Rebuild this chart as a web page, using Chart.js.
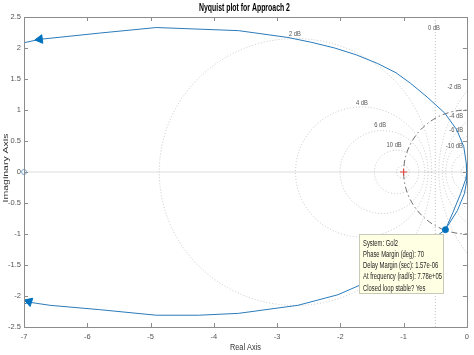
<!DOCTYPE html>
<html><head><meta charset="utf-8">
<script src="https://cdn.jsdelivr.net/npm/chart.js@4"></script>
<style>html,body{margin:0;padding:0;background:#fff}</style>
</head><body>
<canvas id="c" width="474" height="355"></canvas>
<script>
// ---- data ----
const titleText = 'Nyquist plot for Approach 2';
const xAxisTitle = 'Real Axis';
const yAxisTitle = 'Imaginary Axis';
const xTicks = [-7, -6, -5, -4, -3, -2, -1, 0];
const yTicks = [-2.5, -2, -1.5, -1, -0.5, 0, 0.5, 1, 1.5, 2, 2.5];

// Nyquist curve, upper branch (negative frequencies)
const upperReal = [-7.0, -6.75, -5.81, -4.91, -3.61, -2.83, -2.45, -2.09, -1.75, -1.41, -1.12, -0.89, -0.63, -0.35, -0.16, -0.05, -0.01, 0.0, -0.04, -0.15, -0.34];
const upperImag = [2.085, 2.14, 2.24, 2.33, 2.28, 2.17, 2.09, 2.0, 1.89, 1.75, 1.6, 1.43, 1.21, 0.95, 0.68, 0.41, 0.14, -0.13, -0.35, -0.62, -0.93];
// Nyquist curve, lower branch (positive frequencies)
const lowerReal = [-7.0, -6.92, -6.59, -5.81, -4.91, -4.24, -3.61, -2.67, -2.04, -1.68, -1.2, -0.7, -0.34, -0.22, -0.1, -0.02, 0.0];
const lowerImag = [-2.13, -2.10, -2.15, -2.22, -2.31, -2.31, -2.28, -2.15, -1.98, -1.82, -1.55, -1.2, -0.93, -0.65, -0.35, -0.12, 0.0];

// direction arrows on the curve
const arrowReal = [-6.75, -6.92];
const arrowImag = [2.14, -2.09];
const arrowAngle = [-97, -72];

// phase-margin data tip
const pmReal = [-0.34];
const pmImag = [-0.93];
const tipLines = ['System: Gol2', 'Phase Margin (deg): 70', 'Delay Margin (sec): 1.57e-06', 'At frequency (rad/s): 7.78e+05', 'Closed loop stable? Yes'];

// critical point and start marker
const critReal = [-1], critImag = [0];
const startReal = [-7], startImag = [0];

// M-circle grid (closed-loop magnitude, dB)
const gridDb = [-20, -10, -6, -4, -2, 0, 2, 4, 6, 10, 20];
const dbLabels = ['0 dB', '2 dB', '4 dB', '6 dB', '10 dB', '-2 dB', '-4 dB', '-6 dB', '-10 dB'];
const dbLabelReal = [-0.52, -2.72, -1.66, -1.37, -1.15, -0.2, -0.17, -0.17, -0.2];
const dbLabelImag = [2.32, 2.23, 1.11, 0.76, 0.44, 1.37, 0.90, 0.68, 0.42];

// ---- drawing ----
const FONT = "'Liberation Sans', Arial, sans-serif";
const SQUEEZE = 0.72; // the reference is horizontally condensed
const BLUE = '#0072BD';
const pts = (xs, ys) => xs.map((x, i) => ({x, y: ys[i]}));

function squeezedText(ctx, text, x, y, align, sx) {
  ctx.save();
  ctx.translate(x, y);
  ctx.scale(sx, 1);
  ctx.textAlign = align;
  ctx.fillText(text, 0, 0);
  ctx.restore();
}

const decor = {
  id: 'decor',
  beforeDatasetsDraw(chart) {
    const {ctx, chartArea: a, scales: {x, y}} = chart;
    const ux = Math.abs(x.getPixelForValue(1) - x.getPixelForValue(0));
    const uy = Math.abs(y.getPixelForValue(1) - y.getPixelForValue(0));
    ctx.save();
    ctx.beginPath(); ctx.rect(a.left, a.top, a.right - a.left, a.bottom - a.top); ctx.clip();
    ctx.strokeStyle = '#dcdcdc'; ctx.lineWidth = 1; ctx.setLineDash([]);
    ctx.beginPath();
    ctx.moveTo(a.left, y.getPixelForValue(0)); ctx.lineTo(a.right, y.getPixelForValue(0));
    ctx.stroke();
    ctx.strokeStyle = '#c4c4c4'; ctx.setLineDash([1, 2]);
    gridDb.forEach(d => {
      ctx.beginPath();
      if (d === 0) {
        const px = x.getPixelForValue(-0.5);
        ctx.moveTo(px, a.top); ctx.lineTo(px, a.bottom);
      } else {
        const M = Math.pow(10, d / 20), M2 = M * M;
        const c = -M2 / (M2 - 1), r = Math.abs(M / (M2 - 1));
        ctx.ellipse(x.getPixelForValue(c), y.getPixelForValue(0), r * ux, r * uy, 0, 0, Math.PI * 2);
      }
      ctx.stroke();
    });
    ctx.strokeStyle = '#6e6e6e'; ctx.setLineDash([6, 3, 1.5, 3]);
    ctx.beginPath();
    ctx.ellipse(x.getPixelForValue(0), y.getPixelForValue(0), ux, uy, 0, 0, Math.PI * 2);
    ctx.stroke();
    ctx.restore();
    ctx.save();
    ctx.fillStyle = '#555'; ctx.font = '8px ' + FONT; ctx.textBaseline = 'middle';
    dbLabels.forEach((t, i) => squeezedText(ctx, t, x.getPixelForValue(dbLabelReal[i]), y.getPixelForValue(dbLabelImag[i]), 'center', SQUEEZE));
    ctx.restore();
  },
  afterDatasetsDraw(chart) {
    const {ctx, chartArea: a, scales: {x, y}} = chart;
    ctx.save();
    ctx.strokeStyle = '#8c8c8c'; ctx.lineWidth = 1; ctx.setLineDash([]);
    ctx.strokeRect(Math.round(a.left) + 0.5, Math.round(a.top) + 0.5, Math.round(a.right - a.left), Math.round(a.bottom - a.top));
    ctx.beginPath();
    xTicks.forEach(v => {
      const p = Math.round(x.getPixelForValue(v)) + 0.5;
      ctx.moveTo(p, a.bottom); ctx.lineTo(p, a.bottom - 4);
      ctx.moveTo(p, a.top); ctx.lineTo(p, a.top + 4);
    });
    yTicks.forEach(v => {
      const p = Math.round(y.getPixelForValue(v)) + 0.5;
      ctx.moveTo(a.left, p); ctx.lineTo(a.left + 4, p);
      ctx.moveTo(a.right, p); ctx.lineTo(a.right - 4, p);
    });
    ctx.stroke();
    // data tip
    const mx = x.getPixelForValue(pmReal[0]), my = y.getPixelForValue(pmImag[0]);
    const bx = Math.round(mx - 86) + 0.5, by = Math.round(my + 4) + 0.5, bw = 84, bh = 59;
    ctx.fillStyle = '#ffffe4'; ctx.strokeStyle = '#c9c9b8';
    ctx.fillRect(bx, by, bw, bh); ctx.strokeRect(bx, by, bw, bh);
    ctx.fillStyle = '#222'; ctx.font = '8.5px ' + FONT; ctx.textBaseline = 'middle';
    const widest = Math.max(...tipLines.map(t => ctx.measureText(t).width));
    const sx = Math.min(1, (bw - 5) / widest);
    tipLines.forEach((t, i) => squeezedText(ctx, t, bx + 3.5, by + 9 + i * 11.2, 'left', sx));
    // titles
    ctx.fillStyle = '#000'; ctx.font = 'bold 10px ' + FONT; ctx.textBaseline = 'middle';
    squeezedText(ctx, titleText, (a.left + a.right) / 2 - 1, 8, 'center', 91 / ctx.measureText(titleText).width);
    ctx.fillStyle = '#333'; ctx.font = '9.5px ' + FONT;
    squeezedText(ctx, xAxisTitle, (a.left + a.right) / 2, 347.5, 'center', 31 / ctx.measureText(xAxisTitle).width);
    ctx.font = '10.5px ' + FONT;
    ctx.save();
    ctx.translate(5.5, (a.top + a.bottom) / 2 - 4);
    ctx.scale(SQUEEZE, 1);
    ctx.rotate(-Math.PI / 2);
    ctx.textAlign = 'center';
    ctx.fillText(yAxisTitle, 0, 0);
    ctx.restore();
    ctx.restore();
  }
};

new Chart(document.getElementById('c'), {
  type: 'scatter',
  data: {
    datasets: [
      {data: pts(pmReal, pmImag), pointRadius: 3, pointBackgroundColor: BLUE, pointBorderColor: BLUE, order: 0},
      {data: pts(arrowReal, arrowImag), pointStyle: 'triangle', pointRadius: 5, pointRotation: arrowAngle,
       pointBackgroundColor: BLUE, pointBorderColor: BLUE, order: 1},
      {data: pts(upperReal, upperImag), showLine: true, borderColor: '#2b7bba', borderWidth: 1, pointRadius: 0, tension: 0, order: 2},
      {data: pts(lowerReal, lowerImag), showLine: true, borderColor: '#2b7bba', borderWidth: 1, pointRadius: 0, tension: 0, order: 3},
      {data: pts(critReal, critImag), pointStyle: 'cross', pointRadius: 3.5, pointBorderColor: '#e0413a', pointBorderWidth: 1, order: 4},
      {data: pts(startReal, startImag), pointStyle: 'circle', pointRadius: 2.5, pointBorderColor: '#7aaad6', pointBackgroundColor: 'rgba(255,255,255,0.6)', pointBorderWidth: 1, clip: false, order: 5}
    ]
  },
  options: {
    responsive: false,
    animation: false,
    devicePixelRatio: 1,
    layout: {padding: {top: 17, right: 4, left: 0, bottom: 0}},
    plugins: {
      legend: {display: false},
      tooltip: {enabled: false},
      title: {display: false}
    },
    scales: {
      x: {
        type: 'linear', min: -7, max: 0,
        afterBuildTicks: s => { s.ticks = xTicks.map(v => ({value: v})); },
        afterFit: s => { s.height = 28; },
        grid: {display: false, drawTicks: false},
        border: {display: false},
        ticks: {color: '#555', font: {family: FONT, size: 7.5}, padding: 5, maxRotation: 0, callback: v => String(v)},
        title: {display: false}
      },
      y: {
        type: 'linear', min: -2.5, max: 2.5,
        afterBuildTicks: s => { s.ticks = yTicks.map(v => ({value: v})); },
        afterFit: s => { s.width = 24; },
        grid: {display: false, drawTicks: false},
        border: {display: false},
        ticks: {color: '#555', font: {family: FONT, size: 7.5}, padding: 3, callback: v => String(v)},
        title: {display: false}
      }
    }
  },
  plugins: [decor]
});
</script>
</body></html>
